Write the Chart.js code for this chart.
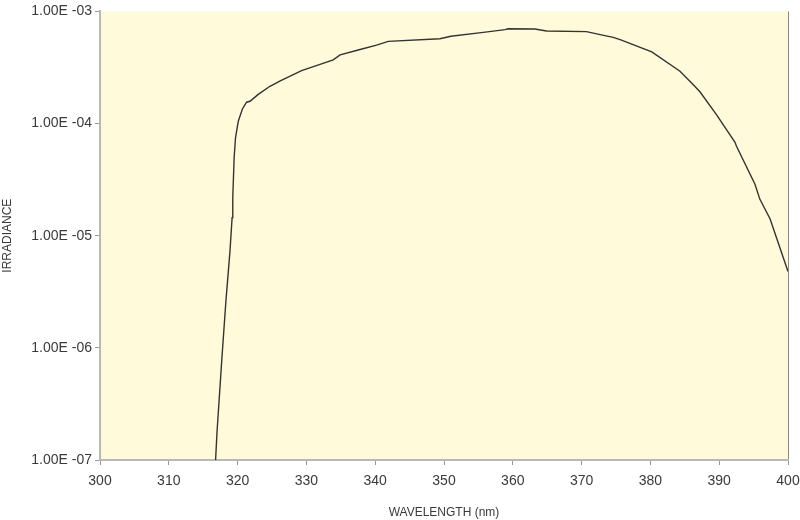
<!DOCTYPE html>
<html>
<head>
<meta charset="utf-8">
<script src="https://cdn.jsdelivr.net/npm/chart.js@4/dist/chart.umd.min.js"></script>
<style>
html,body{margin:0;padding:0;background:#fff;}
#wrap{width:800px;height:520px;}
</style>
</head>
<body>
<div id="wrap"><canvas id="c" width="800" height="520"></canvas></div>
<script>
const wavelengths = [316.8, 317.0, 317.7, 318.3, 318.9, 319.2, 319.3, 319.5, 319.7, 320.1, 320.7, 321.3, 321.8, 323.0, 324.7, 326.2, 329.3, 333.9, 334.9, 337.8, 340.2, 341.9, 349.4, 351.0, 355.7, 358.9, 359.3, 363.2, 364.9, 370.7, 372.7, 374.6, 375.6, 380.2, 384.3, 386.2, 387.2, 389.6, 392.3, 392.5, 395.2, 395.9, 397.4, 400.0];
const irradiance = [1.0e-7, 1.74e-7, 7.8e-7, 2.6e-6, 7.4e-6, 1.45e-5, 2.2e-5, 5.0e-5, 7.5e-5, 1.05e-4, 1.35e-4, 1.55e-4, 1.58e-4, 1.82e-4, 2.15e-4, 2.4e-4, 2.97e-4, 3.7e-4, 4.1e-4, 4.57e-4, 5.0e-4, 5.4e-4, 5.7e-4, 6.0e-4, 6.5e-4, 6.87e-4, 7.0e-4, 6.97e-4, 6.68e-4, 6.6e-4, 6.2e-4, 5.87e-4, 5.6e-4, 4.35e-4, 2.93e-4, 2.23e-4, 1.92e-4, 1.2e-4, 6.8e-5, 6.3e-5, 2.88e-5, 2.12e-5, 1.41e-5, 4.8e-6];
const yTickValues = [1e-7, 1e-6, 1e-5, 1e-4, 1e-3];
const yTickLabels = ["1.00E -07", "1.00E -06", "1.00E -05", "1.00E -04", "1.00E -03"];
const xTickValues = [300, 310, 320, 330, 340, 350, 360, 370, 380, 390, 400];

const FONT = "'Liberation Sans Narrow', 'Arial Narrow', 'Liberation Sans', Arial, sans-serif";
const AXIS_COLOR = '#b8b8b8';
const TEXT_COLOR = '#3a3a3a';

const bgPlugin = {
  id: 'plotBg',
  beforeDraw(chart) {
    const {ctx, chartArea: a} = chart;
    ctx.save();
    ctx.fillStyle = '#FFFAD9';
    ctx.fillRect(a.left, a.top, a.right - a.left, a.bottom - a.top);
    ctx.strokeStyle = '#8a8a8a';
    ctx.lineWidth = 1;
    ctx.beginPath();
    ctx.moveTo(a.right + 0.5, a.top);
    ctx.lineTo(a.right + 0.5, a.bottom);
    ctx.stroke();
    ctx.restore();
  }
};

new Chart(document.getElementById('c'), {
  type: 'line',
  data: {
    datasets: [{
      data: wavelengths.map((w, i) => ({x: w, y: irradiance[i]})),
      borderColor: '#333333',
      borderWidth: 1.4,
      pointRadius: 0,
      tension: 0,
      fill: false
    }]
  },
  plugins: [bgPlugin],
  options: {
    responsive: false,
    animation: false,
    layout: {padding: {top: 10, right: 12, left: 0, bottom: 0}},
    plugins: {legend: {display: false}, tooltip: {enabled: false}},
    scales: {
      x: {
        type: 'linear',
        min: 300, max: 400,
        afterBuildTicks: axis => { axis.ticks = xTickValues.map(v => ({value: v})); },
        afterFit: s => { s.height = 60; s.paddingRight = 0; s.paddingLeft = 0; },
        border: {display: true, color: AXIS_COLOR, width: 2},
        grid: {display: true, drawOnChartArea: false, drawTicks: true, tickLength: 5, color: AXIS_COLOR, tickColor: '#999'},
        ticks: {color: TEXT_COLOR, font: {family: FONT, size: 14}, padding: 8, maxRotation: 0, autoSkip: false},
        title: {display: true, text: 'WAVELENGTH (nm)', color: TEXT_COLOR, font: {family: FONT, size: 12}, padding: {top: 6, bottom: 0}}
      },
      y: {
        type: 'logarithmic',
        min: 1e-7, max: 1e-3,
        afterBuildTicks: axis => { axis.ticks = yTickValues.map(v => ({value: v})); },
        afterFit: s => { s.width = 100; },
        border: {display: true, color: AXIS_COLOR, width: 2},
        grid: {display: true, drawOnChartArea: false, drawTicks: true, tickLength: 5, color: AXIS_COLOR, tickColor: '#999'},
        ticks: {
          color: TEXT_COLOR, font: {family: FONT, size: 14}, padding: 3, autoSkip: false,
          callback: (v) => { const i = yTickValues.findIndex(t => Math.abs(Math.log10(t) - Math.log10(v)) < 1e-6); return i >= 0 ? yTickLabels[i] : null; }
        },
        title: {display: true, text: 'IRRADIANCE', color: TEXT_COLOR, font: {family: FONT, size: 12}, padding: {top: 0, bottom: 0}}
      }
    }
  }
});
</script>
</body>
</html>
